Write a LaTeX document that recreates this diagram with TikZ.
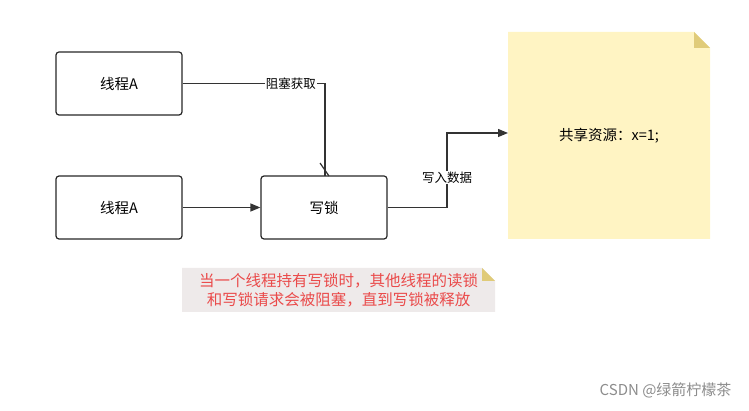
\documentclass[tikz,border=0pt]{standalone}
\usepackage{fontspec}
\setmainfont{Noto Sans CJK SC}
\usetikzlibrary{arrows.meta}
\definecolor{notey}{HTML}{FFF4C3}
\definecolor{notefold}{HTML}{E0CB79}
\definecolor{noteg}{HTML}{EEEAEA}
\definecolor{notered}{HTML}{EA4B4B}
\tikzset{
  box/.style={draw=black!85, line width=1.2pt, rounded corners=3pt, minimum width=126pt, minimum height=63pt, font=\fontsize{14.5}{17}\selectfont},
  wire/.style={draw=black!80, line width=1.2pt},
  lbl/.style={fill=white, inner sep=1pt, font=\fontsize{12.5}{14}\selectfont}
}
\begin{document}
\begin{tikzpicture}[x=1pt,y=-1pt]
  \useasboundingbox (0,0) rectangle (749,411);
  % boxes
  \node[box] (threadA) at (119,83.5) {线程A};
  \node[box] (threadB) at (119,207.5) {线程A};
  \node[box] (lock) at (324,207.5) {写锁};

  % shared resource note
  \fill[notey] (508,32) -- (694,32) -- (710,48) -- (710,239) -- (508,239) -- cycle;
  \fill[notefold] (694,32) -- (710,48) -- (694,48) -- cycle;
  \node[font=\fontsize{14.5}{17}\selectfont] (res) at (609,135.5) {共享资源：x=1;};
  \coordinate (resin) at (508,133);

  % remark note
  \fill[noteg] (182,268) -- (482,268) -- (495,281) -- (495,312) -- (182,312) -- cycle;
  \fill[notefold] (482,268) -- (495,281) -- (482,281) -- cycle;
  \node[text=notered, align=center, font=\fontsize{15.5}{19}\selectfont] (remark) at (338.5,290)
    {当一个线程持有写锁时，其他线程的读锁\\和写锁请求会被阻塞，直到写锁被释放};

  % connectors
  \coordinate (blockend) at (325,176);
  \draw[wire] (threadA.east) -| node[lbl, pos=0.38] {阻塞获取} (blockend);
  \draw[wire] (320,163) -- (329,176);
  \draw[wire, -{Triangle[length=10pt,width=8pt]}] (threadB.east) -- (lock.west);
  \draw[wire, -{Triangle[length=10pt,width=8pt]}] (lock.east) -- (447,207.5)
    -- node[lbl, pos=0.4] {写入数据} (447,133) -- (resin);

  \node[text=black!45, font=\fontsize{15}{17}\selectfont, anchor=east] (mark) at (735,390) {CSDN @绿箭柠檬茶};
\end{tikzpicture}
\end{document}
